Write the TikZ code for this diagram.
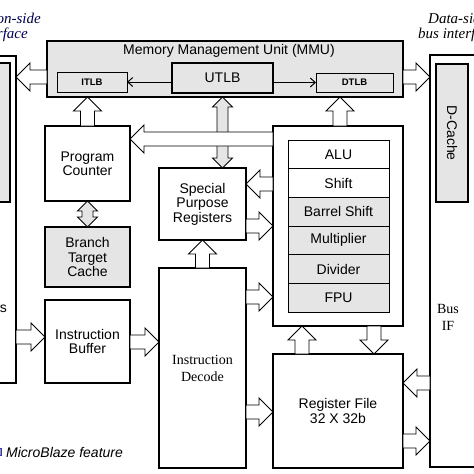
\documentclass[tikz,border=0pt]{standalone}
\usepackage{fontspec}
\setmainfont{Liberation Serif}
\setsansfont{Liberation Sans}
\usetikzlibrary{arrows.meta,positioning,calc}

\newcommand{\boxfont}{\sffamily\fontsize{14}{14.5}\selectfont}
\newcommand{\tlbfont}{\sffamily\bfseries\fontsize{9.5}{11}\selectfont}
\newcommand{\busfont}{\rmfamily\fontsize{14}{17}\selectfont}
\newcommand{\sidefont}{\rmfamily\itshape\fontsize{15}{16}\selectfont}

% hollow block arrows: #2 tail, #3 tip
\newcommand{\hblock}[3][white]{%
  \draw[blockarrow, fill=#1] let \p1=#2, \p2=#3, \n1={sign(\x2-\x1)}, \n2={\x2-\n1*14} in
    (\x1,{\y1+7}) -- (\n2,{\y1+7}) -- (\n2,{\y1+14}) -- (\x2,\y1)
    -- (\n2,{\y1-14}) -- (\n2,{\y1-7}) -- (\x1,{\y1-7}) -- cycle;}
\newcommand{\vblock}[3][white]{%
  \draw[blockarrow, fill=#1] let \p1=#2, \p2=#3, \n1={sign(\y2-\y1)}, \n2={\y2-\n1*14} in
    ({\x1+7},\y1) -- ({\x1+7},\n2) -- ({\x1+14},\n2) -- (\x1,\y2)
    -- ({\x1-14},\n2) -- ({\x1-7},\n2) -- ({\x1-7},\y1) -- cycle;}
\newcommand{\vtwin}[3][gray!20]{%
  \draw[blockarrow, fill=#1] let \p1=#2, \p2=#3, \n1={sign(\y2-\y1)},
      \n2={\y1+\n1*10}, \n3={\y2-\n1*10} in
    (\x1,\y1) -- ({\x1+10},\n2) -- ({\x1+5.5},\n2)
    -- ({\x1+5.5},\n3) -- ({\x1+10},\n3) -- (\x1,\y2)
    -- ({\x1-10},\n3) -- ({\x1-5.5},\n3)
    -- ({\x1-5.5},\n2) -- ({\x1-10},\n2) -- cycle;}

\begin{document}
\begin{tikzpicture}[x=1pt, y=-1pt,
    block/.style={rectangle, draw, line width=1.2pt, anchor=north west, inner sep=0pt, outer sep=0pt, align=center, font=\boxfont},
    unit/.style={block, fill=gray!20},
    tlb/.style={unit, line width=1pt, font=\tlbfont},
    row/.style={rectangle, draw, line width=0.9pt, minimum width=101pt, minimum height=28.67pt, inner sep=0pt, outer sep=0pt, font=\boxfont},
    blockarrow/.style={draw, line width=0.9pt, line join=miter},
    thinarrow/.style={line width=1pt, -{Straight Barb[length=5pt,width=9pt]}}
  ]
  \useasboundingbox (0,0) rectangle (474,474);
  \clip (0,0) rectangle (474,474);

  % instruction-side bus interface
  \node[block, minimum width=56pt, minimum height=327pt] (isbus) at (-40,56) {};
  \node[unit, minimum width=50pt, minimum height=139pt] (icache) at (-40,63) {};
  \node[anchor=base east, font=\boxfont, inner sep=0pt] (isbuslabel) at (7,312) {Bus};
  \node[anchor=base east, font=\sidefont, text=blue!30!black, inner sep=0pt] (isside) at (41,23) {Instruction-side};
  \node[anchor=base east, font=\sidefont, text=blue!30!black, inner sep=0pt] (isbif) at (28,38) {bus interface};

  % data-side bus interface
  \node[block, minimum width=80pt, minimum height=412pt] (dsbus) at (430,55) {};
  \node[unit, minimum width=32pt, minimum height=138pt] (dcache) at (436,64) {};
  \node[rotate=-90, font=\boxfont] at (dcache.center) {D-Cache};
  \node[font=\busfont, align=center] (dsbuslabel) at (448,317) {Bus\\IF};
  \node[anchor=base west, font=\sidefont, inner sep=0pt] (dsside) at (428,23) {Data-side};
  \node[anchor=base west, font=\sidefont, inner sep=0pt] (dsbif) at (418,38) {bus interface};

  % MMU
  \node[unit, minimum width=356pt, minimum height=56pt] (mmu) at (47,41) {};
  \node[font=\boxfont] at (229,51) {Memory Management Unit (MMU)};
  \node[tlb, minimum width=70pt, minimum height=20pt] (itlb) at (57,72) {ITLB};
  \node[unit, minimum width=101pt, minimum height=30pt] (utlb) at (172,63) {UTLB};
  \node[tlb, minimum width=77pt, minimum height=19pt] (dtlb) at (316,73) {DTLB};
  \draw[thinarrow] (utlb.west |- itlb.east) -- (itlb.east);
  \draw[thinarrow] (utlb.east |- dtlb.west) -- (dtlb.west);

  % fetch side
  \node[block, minimum width=85pt, minimum height=75pt] (pc) at (45,126) {Program\\Counter};
  \node[unit, minimum width=85pt, minimum height=60pt] (btc) at (45,227) {Branch\\Target\\Cache};
  \node[block, minimum width=85pt, minimum height=83pt] (ib) at (45,300) {Instruction\\Buffer};
  \node[block, minimum width=87pt, minimum height=72pt] (spr) at (159,168) {Special\\Purpose\\Registers};
  \node[block, minimum width=87pt, minimum height=200pt, font=\busfont] (id) at (159,268) {Instruction\\Decode};

  % execution units
  \node[block, minimum width=130pt, minimum height=200pt] (exu) at (273,126) {};
  \node[row, anchor=north west] (alu) at (288,140) {ALU};
  \node[row, below=0pt of alu] (shft) {Shift};
  \node[row, fill=gray!20, below=0pt of shft] (barrel) {Barrel Shift};
  \node[row, fill=gray!20, below=0pt of barrel] (mult) {Multiplier};
  \node[row, fill=gray!20, below=0pt of mult] (div) {Divider};
  \node[row, fill=gray!20, below=0pt of div] (fpu) {FPU};
  \node[block, minimum width=130pt, minimum height=114pt] (rf) at (273,354) {Register File\\32 X 32b};

  % block arrows
  \hblock{([yshift=-36pt]mmu.north west)}{(isbus.east)}
  \hblock{([yshift=-36pt]mmu.north east)}{(dsbus.west)}
  \vblock{(pc.north)}{(mmu.south)}
  \vblock{([xshift=2pt]exu.north)}{(mmu.south)}
  \vtwin{(pc.south)}{(btc.north)}
  \vtwin{(utlb.south |- mmu.south)}{(utlb.south |- spr.north)}
  \hblock{([yshift=-13pt]exu.north west)}{(pc.east)}
  \hblock{([yshift=-58pt]exu.north west)}{(spr.east)}
  \hblock{([yshift=-58pt]spr.north east)}{(exu.west)}
  \vblock{(id.north)}{(spr.south)}
  \hblock{([yshift=-29pt]id.north east)}{(exu.west)}
  \hblock{([yshift=-144pt]id.north east)}{(rf.west)}
  \vblock{([xshift=29pt]rf.north west)}{(exu.south)}
  \vblock{([xshift=101pt]exu.south west)}{(rf.north)}
  \hblock{([yshift=-328pt]dsbus.north west)}{(rf.east)}
  \hblock{([yshift=-87pt]rf.north east)}{(dsbus.west)}
  \hblock{([yshift=-281pt]isbus.north east)}{(ib.west)}
  \hblock{([yshift=-42pt]ib.north east)}{(id.west)}

  % legend
  \node[draw=blue!60!gray, fill=blue!40!gray!60, minimum width=8pt, minimum height=7pt, inner sep=0pt] (swatch) at (-2.5,452) {};
  \node[anchor=base west, font=\sffamily\itshape\fontsize{14}{16}\selectfont, inner sep=0pt] (legend) at (6,457) {MicroBlaze feature};
\end{tikzpicture}
\end{document}
